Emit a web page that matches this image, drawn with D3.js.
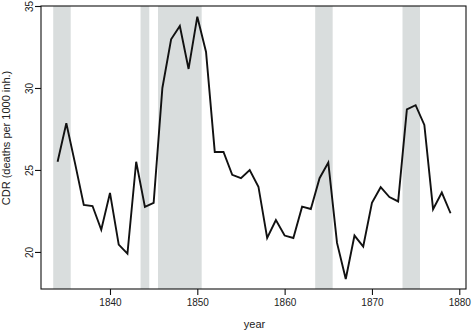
<!DOCTYPE html>
<html>
<head>
<meta charset="utf-8">
<script src="https://cdn.jsdelivr.net/npm/d3@7"></script>
<style>
  html, body { margin: 0; padding: 0; background: #fff; }
  svg { display: block; font-family: "Liberation Sans", Arial, Helvetica, sans-serif; }
</style>
</head>
<body>
<svg id="chart" width="474" height="334"></svg>
<script>
// ---- data ----
const years = d3.range(1834, 1880);
const cdr = [
  25.5, 27.85, 25.4, 22.87, 22.8, 21.35, 23.6, 20.45, 19.9, 25.5,
  22.75, 23.0, 30.0, 32.97, 33.78, 31.16, 34.35, 32.2, 26.1, 26.1,
  24.7, 24.5, 25.0, 23.98, 20.85, 21.95, 21.0, 20.85, 22.76, 22.62,
  24.5, 25.45, 20.55, 18.35, 21.0, 20.33, 23.0, 23.95, 23.35, 23.08,
  28.7, 28.95, 27.75, 22.6, 23.62, 22.36
];
const bandStart = [1833.5, 1843.5, 1845.5, 1863.5, 1873.5];
const bandEnd   = [1835.5, 1844.5, 1850.5, 1865.5, 1875.5];
const xTicks = [1840, 1850, 1860, 1870, 1880];
const yTicks = [20, 25, 30, 35];
const xTitle = "year";
const yTitle = "CDR (deaths per 1000 inh.)";

// ---- layout ----
const svg = d3.select("#chart");
const L = 41, R = 466, T = 6, B = 289;
const x = d3.scaleLinear().domain([1832.1, 1880.77]).range([L, R]);
const y = d3.scaleLinear().domain([17.74, 35]).range([B, T]);

// bands
svg.append("g").selectAll("rect")
  .data(bandStart.map((s, i) => [s, bandEnd[i]]))
  .join("rect")
  .attr("x", d => x(d[0]))
  .attr("width", d => x(d[1]) - x(d[0]))
  .attr("y", T)
  .attr("height", B - T)
  .attr("fill", "#d9dddd");

// line
const pts = years.map((yr, i) => [yr, cdr[i]]);
svg.append("path")
  .datum(pts)
  .attr("fill", "none")
  .attr("stroke", "#111")
  .attr("stroke-width", 1.9)
  .attr("stroke-linejoin", "miter")
  .attr("d", d3.line().x(d => x(d[0])).y(d => y(d[1])));

// frame
svg.append("rect")
  .attr("x", L).attr("y", T)
  .attr("width", R - L).attr("height", B - T)
  .attr("fill", "none").attr("stroke", "#111").attr("stroke-width", 1.1);

// x axis
const gx = svg.append("g")
  .attr("transform", `translate(0,${B})`)
  .call(d3.axisBottom(x).tickValues(xTicks).tickFormat(d3.format("d")).tickSize(6).tickSizeOuter(0).tickPadding(4));
gx.select(".domain").remove();
gx.selectAll("line").attr("stroke", "#111").attr("stroke-width", 1.1);
gx.selectAll("text").attr("font-size", 10).attr("fill", "#222")
  .attr("font-family", "Liberation Sans, Arial, sans-serif");

// y axis
const gy = svg.append("g")
  .attr("transform", `translate(${L},0)`)
  .call(d3.axisLeft(y).tickValues(yTicks).tickFormat(d3.format("d")).tickSize(6).tickSizeOuter(0));
gy.select(".domain").remove();
gy.selectAll("line").attr("stroke", "#111").attr("stroke-width", 1.1);
gy.selectAll("text")
  .attr("font-size", 10).attr("fill", "#222")
  .attr("font-family", "Liberation Sans, Arial, sans-serif")
  .attr("x", null).attr("dy", null)
  .attr("text-anchor", "middle")
  .attr("transform", "translate(-8,0) rotate(-90)");

// titles
svg.append("text")
  .attr("x", (L + R) / 2 + 1)
  .attr("y", 328)
  .attr("text-anchor", "middle")
  .attr("font-size", 11)
  .attr("fill", "#222")
  .text(xTitle);

svg.append("text")
  .attr("transform", `translate(10,${138}) rotate(-90)`)
  .attr("text-anchor", "middle")
  .attr("font-size", 11)
  .attr("fill", "#222")
  .text(yTitle);
</script>
</body>
</html>
